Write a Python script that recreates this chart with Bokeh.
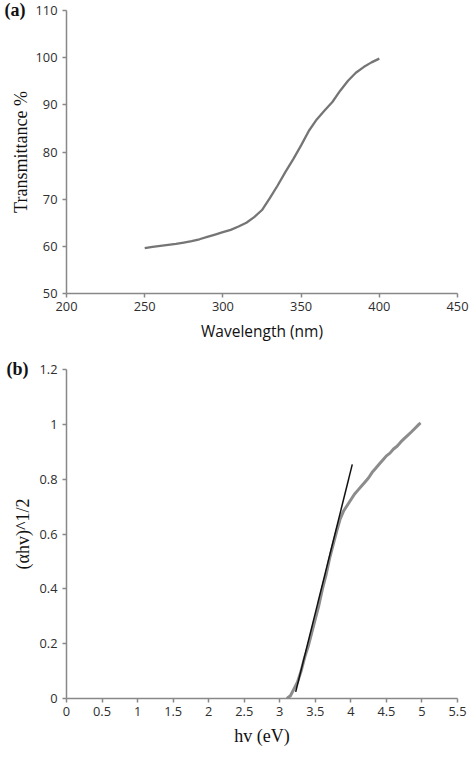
from bokeh.plotting import figure
from bokeh.layouts import column
from bokeh.models import FixedTicker, CustomJSTickFormatter, Range1d, Title
from bokeh.embed import file_html
from bokeh.resources import INLINE

# ---- Panel (a): transmittance spectrum ----
wavelength_nm = [250, 255, 260, 265, 270, 275, 280, 285, 290, 295, 300, 305, 310,
                 315, 320, 325, 330, 335, 340, 345, 350, 355, 360, 365, 370, 375,
                 380, 385, 390, 395, 400]
transmittance = [59.6, 59.9, 60.1, 60.3, 60.5, 60.8, 61.1, 61.5, 62.0, 62.5, 63.0,
                 63.5, 64.2, 65.0, 66.2, 67.7, 70.2, 72.9, 75.8, 78.5, 81.4, 84.5,
                 86.9, 88.8, 90.6, 93.0, 95.1, 96.8, 98.0, 99.0, 99.8]
a_xticks = [200, 250, 300, 350, 400, 450]
a_yticks = [50, 60, 70, 80, 90, 100, 110]

# ---- Panel (b): Tauc plot ----
hv_ev = [3.10, 3.15, 3.20, 3.25, 3.30, 3.35, 3.40, 3.45, 3.50, 3.55, 3.60, 3.65,
         3.70, 3.75, 3.80, 3.85, 3.90, 3.95, 4.00, 4.05, 4.10, 4.15, 4.20, 4.25,
         4.30, 4.35, 4.40, 4.45, 4.50, 4.55, 4.60, 4.65, 4.70, 4.75, 4.80, 4.85,
         4.90, 4.95, 4.98]
tauc_y = [0.0, 0.01, 0.035, 0.06, 0.10, 0.15, 0.19, 0.24, 0.29, 0.34, 0.40, 0.45,
          0.51, 0.56, 0.61, 0.655, 0.685, 0.705, 0.725, 0.745, 0.76, 0.775, 0.79,
          0.805, 0.825, 0.84, 0.855, 0.87, 0.885, 0.895, 0.91, 0.92, 0.935, 0.948,
          0.96, 0.972, 0.985, 0.998, 1.005]
fit_x = [3.224, 4.02]
fit_y = [0.024, 0.854]
b_xticks = [0, 0.5, 1, 1.5, 2, 2.5, 3, 3.5, 4, 4.5, 5, 5.5]
b_yticks = [0, 0.2, 0.4, 0.6, 0.8, 1, 1.2]

AXIS_COLOR = "#888888"
TICK_FONT = "Open Sans"
SERIF = "Liberation Serif"

fmt = CustomJSTickFormatter(code="return tick.toString();")


def style(p):
    p.grid.visible = False
    p.outline_line_color = None
    p.background_fill_color = "white"
    for ax in (p.xaxis[0], p.yaxis[0]):
        ax.axis_line_color = AXIS_COLOR
        ax.axis_line_width = 1.5
        ax.major_tick_line_color = AXIS_COLOR
        ax.major_tick_line_width = 1.5
        ax.major_tick_in = 0
        ax.major_tick_out = 4
        ax.minor_tick_line_color = None
        ax.major_label_text_font = TICK_FONT
        ax.major_label_text_font_size = "12.8px"
        ax.major_label_text_color = "#2e2e2e"
        ax.axis_label_text_font_style = "normal"
        ax.axis_label_text_color = "#111111"
        ax.formatter = fmt
    p.xaxis[0].major_label_standoff = 4


def panel_tag(p, text, offset):
    p.add_layout(Title(text=text, align="left", offset=offset,
                       vertical_align="middle", standoff=-20,
                       text_font=SERIF, text_font_style="bold",
                       text_font_size="18px", text_color="#111111"), "above")


# Panel (a)
pa = figure(width=470, height=360, output_backend="svg", toolbar_location=None,
            x_range=Range1d(200, 450), y_range=Range1d(50, 110),
            min_border_left=66, min_border_right=12, min_border_top=10,
            min_border_bottom=67)
style(pa)
pa.xaxis.ticker = FixedTicker(ticks=a_xticks)
pa.yaxis.ticker = FixedTicker(ticks=a_yticks)
pa.xaxis.axis_label = "Wavelength (nm)"
pa.xaxis.axis_label_text_font = TICK_FONT
pa.xaxis.axis_label_text_font_size = "15.5px"
pa.xaxis.axis_label_standoff = 6
pa.yaxis.axis_label = "Transmittance %"
pa.yaxis.axis_label_text_font = SERIF
pa.yaxis.axis_label_text_font_size = "18px"
pa.yaxis.axis_label_standoff = 2
pa.line(wavelength_nm, transmittance, line_color="#757575", line_width=2.3)
panel_tag(pa, "(a)", -62)

# Panel (b)
pb = figure(width=470, height=398, output_backend="svg", toolbar_location=None,
            x_range=Range1d(0, 5.5), y_range=Range1d(0, 1.2),
            min_border_left=66, min_border_right=13, min_border_top=9,
            min_border_bottom=60)
style(pb)
pb.xaxis.ticker = FixedTicker(ticks=b_xticks)
pb.yaxis.ticker = FixedTicker(ticks=b_yticks)
pb.xaxis.axis_label = "hv (eV)"
pb.xaxis.axis_label_text_font = SERIF
pb.xaxis.axis_label_text_font_size = "18px"
pb.xaxis.axis_label_standoff = 7
pb.yaxis.axis_label = "(\u03b1hv)^1/2"
pb.yaxis.axis_label_text_font = SERIF
pb.yaxis.axis_label_text_font_size = "18px"
pb.yaxis.axis_label_standoff = 4
pb.line(hv_ev, tauc_y, line_color="#8c8c8c", line_width=3)
pb.line(fit_x, fit_y, line_color="#111111", line_width=1.5)
panel_tag(pb, "(b)", -60)

layout = column(pa, pb)
open("out.html", "w").write(file_html(layout, INLINE))
